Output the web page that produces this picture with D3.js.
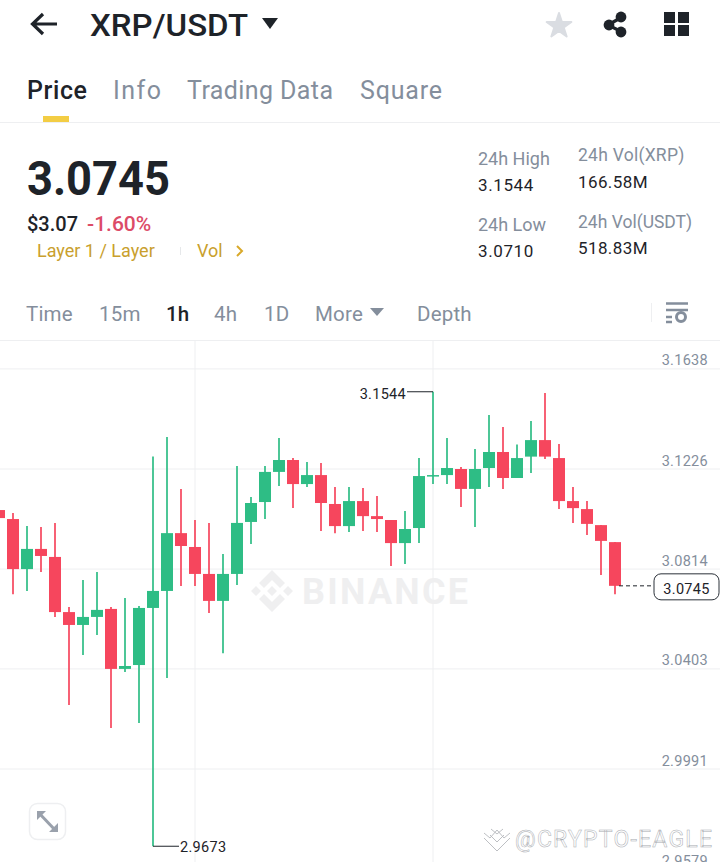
<!DOCTYPE html>
<html>
<head>
<meta charset="utf-8">
<script src="https://cdn.jsdelivr.net/npm/d3@7"></script>
<style>
  html, body { margin: 0; padding: 0; background: #fff; overflow: hidden; }
  text { font-family: Roboto, sans-serif; }
</style>
</head>
<body>
<div id="my_dataviz"></div>
<script>
// candle values (left to right, 1h candles)
var opens = [3.1057,3.1020,3.0814,3.0897,3.0864,3.0637,3.0584,3.0617,3.0650,3.0403,3.0419,3.0654,3.0724,3.0962,3.0905,3.0794,3.0683,3.0794,3.1008,3.1090,3.1214,3.1263,3.1164,3.1201,3.1082,3.0991,3.1094,3.1032,3.1016,3.0921,3.0983,3.1197,3.1201,3.1226,3.1144,3.1230,3.1296,3.1189,3.1277,3.1345,3.1271,3.1094,3.1061,3.0995,3.0925];
var highs = [3.1304,3.1045,3.0991,3.0987,3.1004,3.0658,3.0769,3.0802,3.0658,3.0695,3.0662,3.1277,3.1358,3.1144,3.1016,3.1004,3.0876,3.1238,3.1111,3.1238,3.1354,3.1271,3.1255,3.1251,3.1152,3.1152,3.1148,3.1115,3.1016,3.1053,3.1271,3.1544,3.1354,3.1234,3.1308,3.1448,3.1399,3.1327,3.1424,3.1539,3.1329,3.1152,3.1094,3.0995,3.0925];
var lows = [3.1024,3.0710,3.0724,3.0802,3.0617,3.0254,3.0460,3.0543,3.0160,3.0390,3.0180,2.9673,3.0366,3.0744,3.0744,3.0633,3.0468,3.0748,3.0917,3.1020,3.1156,3.1065,3.1152,3.0971,3.0962,3.0967,3.0971,3.0967,3.0827,3.0835,3.0921,3.1164,3.1164,3.1070,3.0987,3.1152,3.1144,3.1189,3.1210,3.1267,3.1061,3.1004,3.0954,3.0790,3.0710];
var closes = [3.1024,3.0814,3.0897,3.0868,3.0637,3.0584,3.0617,3.0646,3.0403,3.0415,3.0654,3.0724,3.0962,3.0909,3.0794,3.0683,3.0794,3.1004,3.1086,3.1214,3.1263,3.1164,3.1201,3.1086,3.0991,3.1094,3.1032,3.1020,3.0921,3.0979,3.1197,3.1201,3.1230,3.1144,3.1226,3.1296,3.1189,3.1271,3.1345,3.1277,3.1094,3.1065,3.1000,3.0930,3.0745];

var priceTicks = [3.1638, 3.1226, 3.0814, 3.0403, 2.9991, 2.9579];
var vGridIndex = [14, 31];
var lastPrice = 3.0745, dayHigh = 3.1544, dayLow = 2.9673;

var tabLabels = ["Price", "Info", "Trading Data", "Square"];
var tabX = [27, 113, 187, 360];
var tabW = [60, 48, 146, 82];
var rangeLabels = ["Time", "15m", "1h", "4h", "1D", "More", "Depth"];
var rangeX = [26, 99, 166, 214, 264, 315, 417];

var red = "#f6465d", green = "#2ebd85", dark = "#1e2329", gray = "#848e9c", gold = "#c99f2e", grid = "#eeeff1";

var width = 720, height = 862;
var svg = d3.select("#my_dataviz").append("svg")
  .attr("width", width).attr("height", height)
  .style("display", "block");

function label(str, x, y, size, fill, weight, anchor, spacing) {
  return svg.append("text").text(str)
    .attr("x", x).attr("y", y)
    .attr("font-size", size)
    .attr("fill", fill)
    .attr("font-weight", weight || 400)
    .attr("text-anchor", anchor || "start")
    .attr("letter-spacing", spacing || 0);
}

// scales: 100px of chart is 0.04117 of price, candles sit 14px apart
var y = d3.scaleLinear().domain([3.1226, 2.9991]).range([469, 769]);
var x = d3.scaleLinear().domain([0, 44]).range([-1, 615]);
var bodyWidth = 12;

// header
svg.append("path").attr("d", "M57 24H33M43 14L32.5 24L43 34")
  .attr("fill", "none").attr("stroke", dark).attr("stroke-width", 3.2);
label("XRP/USDT", 90, 36, 31, dark, 500).attr("textLength", 158).attr("lengthAdjust", "spacingAndGlyphs");
svg.append("path").attr("d", "M262 18H278L270 29Z").attr("fill", dark);
svg.append("path")
  .attr("d", d3.symbol().type(d3.symbolStar).size(190)())
  .attr("transform", "translate(559,26)")
  .attr("fill", "#dadde2").attr("stroke", "#dadde2").attr("stroke-width", 2).attr("stroke-linejoin", "round");
// share icon
svg.append("path").attr("d", "M622 17L608 25L622 32").attr("fill", "none").attr("stroke", dark).attr("stroke-width", 3.2);
svg.selectAll("circle.share").data([[621, 17], [609, 25], [621, 32]]).enter().append("circle")
  .attr("class", "share")
  .attr("cx", d => d[0]).attr("cy", d => d[1]).attr("r", 5.4).attr("fill", dark);
// layout icon
svg.selectAll("rect.layout").data([[664, 12], [678, 12], [664, 25], [678, 25]]).enter().append("rect")
  .attr("class", "layout")
  .attr("x", d => d[0]).attr("y", d => d[1]).attr("width", 11).attr("height", 11).attr("fill", dark);

// tabs
tabLabels.forEach(function(t, i) {
  label(t, tabX[i], 99, 25, i == 0 ? dark : gray, i == 0 ? 500 : 400).attr("textLength", tabW[i]);
});
svg.append("rect").attr("x", 43).attr("y", 116).attr("width", 26).attr("height", 6).attr("fill", "#f3cd44");
svg.append("line").attr("x1", 0).attr("x2", width).attr("y1", 122.5).attr("y2", 122.5).attr("stroke", grid);

// price block
label("3.0745", 27, 195, 49, dark, 700).attr("textLength", 143).attr("lengthAdjust", "spacingAndGlyphs");
label("$3.07", 27, 231, 20, dark, 500);
label("-1.60%", 87, 231, 21, "#dc4b67", 500);
label("Layer 1 / Layer", 37, 257, 18, gold);
label("Vol", 197, 257, 18, gold);
svg.append("path").attr("d", "M237 246L242 251L237 256").attr("fill", "none").attr("stroke", "#d9a92a").attr("stroke-width", 2);
svg.append("line").attr("x1", 180.5).attr("x2", 180.5).attr("y1", 247).attr("y2", 255).attr("stroke", "#e6e8ea");

label("24h High", 478, 165, 18, gray);
label("3.1544", 478, 191, 17, dark, 400, "start", 0.6);
label("24h Low", 478, 231, 18, gray);
label("3.0710", 478, 257, 17, dark, 400, "start", 0.6);
label("24h Vol(XRP)", 578, 161, 17.5, gray, 400, "start", 0.25);
label("166.58M", 578, 188, 17, dark, 400, "start", 0.4);
label("24h Vol(USDT)", 578, 228, 17.5, gray);
label("518.83M", 578, 254, 17, dark, 400, "start", 0.4);

// timeframe row
rangeLabels.forEach(function(t, i) {
  label(t, rangeX[i], 321, 20.5, t == "1h" ? dark : gray, t == "1h" ? 500 : 400, "start", 0.2);
});
svg.append("path").attr("d", "M370 308H384L377 316Z").attr("fill", gray);
svg.append("line").attr("x1", 651.5).attr("x2", 651.5).attr("y1", 303).attr("y2", 322).attr("stroke", grid);
svg.append("path").attr("d", "M666 303.5H688M666 310H688M666 317H672M666 322H672")
  .attr("fill", "none").attr("stroke", gray).attr("stroke-width", 2.4);
svg.append("circle").attr("cx", 681).attr("cy", 317).attr("r", 4.5)
  .attr("fill", "#fff").attr("stroke", gray).attr("stroke-width", 3);
svg.append("line").attr("x1", 0).attr("x2", width).attr("y1", 340.5).attr("y2", 340.5).attr("stroke", grid);

// gridlines
svg.selectAll("line.h").data(priceTicks).enter().append("line")
  .attr("class", "h")
  .attr("x1", 0).attr("x2", width)
  .attr("y1", d => y(d)).attr("y2", d => y(d))
  .attr("stroke", grid);
svg.selectAll("line.v").data(vGridIndex).enter().append("line")
  .attr("class", "v")
  .attr("x1", d => x(d)).attr("x2", d => x(d))
  .attr("y1", 341).attr("y2", height)
  .attr("stroke", grid);

// watermark
svg.append("path")
  .attr("transform", "translate(272,591)")
  .attr("fill", "#efeff0")
  .attr("d", "M0 -21L13 -8L8 -3L0 -11L-8 -3L-13 -8Z M0 21L13 8L8 3L0 11L-8 3L-13 8Z" +
    "M-16 -5L-11 0L-16 5L-21 0Z M16 -5L21 0L16 5L11 0Z M0 -5L5 0L0 5L-5 0Z");
label("BINANCE", 302, 604, 36, "#efeff0", 700).attr("textLength", 166);

// y axis labels
var axis = svg.append("g")
  .attr("transform", "translate(708,0)")
  .call(d3.axisLeft(y).tickValues(priceTicks).tickSize(0).tickFormat(d3.format(".4f")));
axis.select(".domain").remove();
axis.selectAll("text")
  .attr("x", 0).attr("dy", -4)
  .attr("fill", gray)
  .attr("font-size", 14.5)
  .attr("letter-spacing", 0.3)
  .style("font-family", "Roboto, sans-serif");

// candles
var candles = d3.range(opens.length);
function candleColor(i) { return closes[i] >= opens[i] ? green : red; }

svg.selectAll("line.wick").data(candles).enter().append("line")
  .attr("class", "wick")
  .attr("x1", i => x(i)).attr("x2", i => x(i))
  .attr("y1", i => y(highs[i])).attr("y2", i => y(lows[i]))
  .attr("stroke", candleColor)
  .attr("stroke-width", 1.7);
svg.selectAll("rect.body").data(candles).enter().append("rect")
  .attr("class", "body")
  .attr("x", i => x(i) - bodyWidth / 2)
  .attr("y", i => y(Math.max(opens[i], closes[i])))
  .attr("width", bodyWidth)
  .attr("height", i => Math.max(1.5, Math.abs(y(opens[i]) - y(closes[i]))))
  .attr("fill", candleColor);

// high / low callouts
var highIdx = highs.indexOf(dayHigh), lowIdx = lows.indexOf(dayLow);
svg.append("line").attr("x1", x(highIdx) - 26).attr("x2", x(highIdx))
  .attr("y1", y(dayHigh)).attr("y2", y(dayHigh)).attr("stroke", dark);
label(d3.format(".4f")(dayHigh), x(highIdx) - 27, y(dayHigh) + 7, 14.5, dark, 400, "end", 0.3);
svg.append("line").attr("x1", x(lowIdx)).attr("x2", x(lowIdx) + 26)
  .attr("y1", y(dayLow)).attr("y2", y(dayLow)).attr("stroke", dark);
label(d3.format(".4f")(dayLow), x(lowIdx) + 27, y(dayLow) + 6, 14.5, dark, 400, "start", 0.3);

// last price tag
svg.append("line").attr("x1", x(44) + 4).attr("x2", 654)
  .attr("y1", y(lastPrice)).attr("y2", y(lastPrice))
  .attr("stroke", dark).attr("stroke-dasharray", "4 3");
svg.append("rect").attr("x", 654).attr("y", y(lastPrice) - 12).attr("width", 65).attr("height", 26).attr("rx", 7)
  .attr("fill", "#fff").attr("stroke", "#2b3139");
label(d3.format(".4f")(lastPrice), 686.5, y(lastPrice) + 8, 14.5, dark, 400, "middle", 0.3);

// expand button
svg.append("rect").attr("x", 29.5).attr("y", 803.5).attr("width", 36).attr("height", 36).attr("rx", 8)
  .attr("fill", "#fff").attr("stroke", "#eeeff1").attr("stroke-width", 1.5);
svg.append("path").attr("d", "M38 812L56 831").attr("stroke", "#9aa1ac").attr("stroke-width", 3);
svg.append("path").attr("d", "M37 811H46L37 820ZM58 832H49L58 823Z").attr("fill", "#9aa1ac");

// account watermark
label("@CRYPTO-EAGLE", 515, 847, 23, "#fff", 400).attr("textLength", 197)
  .attr("stroke", "#a9acb1").attr("stroke-width", 0.5);
svg.append("path")
  .attr("d", "M484 838L497 851L510 838M490 835L497 842L504 835M484 833L490 838L497 830L504 838L510 833M491 829L497 834L503 829")
  .attr("fill", "none").attr("stroke", "#b5b8bc").attr("stroke-width", 0.9);
</script>
</body>
</html>
